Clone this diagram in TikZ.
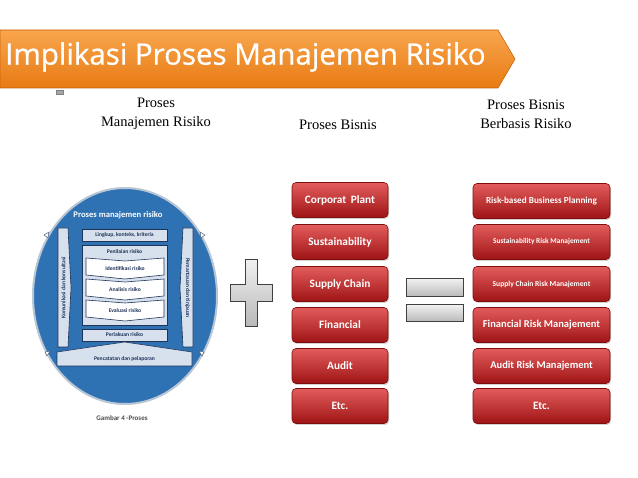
\documentclass[tikz,border=0pt]{standalone}
\usepackage{fontspec}
\setmainfont{Liberation Serif}
\newfontfamily\titlefont[FakeBold=0.8]{Open Sans}
\newfontfamily\boxfont{Carlito}
\usetikzlibrary{shadows}
\definecolor{orangeA}{HTML}{F8A64E}
\definecolor{orangeB}{HTML}{E87A12}
\definecolor{orangeC}{HTML}{C86408}
\definecolor{redTop}{HTML}{E25C5C}
\definecolor{redMid}{HTML}{CC2B2B}
\definecolor{redBot}{HTML}{9E1414}
\definecolor{redLine}{HTML}{7E0E0E}
\definecolor{ellBlue}{HTML}{2F72B4}
\definecolor{ellLine}{HTML}{B9C6D3}
\definecolor{paleBox}{HTML}{D7E1EE}
\definecolor{navy}{HTML}{1F3458}
\tikzset{
  redbox/.style={rounded corners=4pt, draw=redLine, line width=0.6pt,
    top color=redTop, middle color=redMid, bottom color=redBot,
    minimum height=35pt, text=white, font=\boxfont\bfseries,
    drop shadow={opacity=0.35, shadow xshift=1pt, shadow yshift=-1.5pt}},
  midbox/.style={redbox, minimum width=96pt},
  rightbox/.style={redbox, minimum width=137pt},
  palebox/.style={fill=paleBox, draw=navy, line width=0.6pt},
  whitebox/.style={fill=white, draw=navy, line width=0.6pt},
  innerlbl/.style={text=navy, font=\boxfont\bfseries\fontsize{5.6}{6}\selectfont, inner sep=0pt},
  greyshape/.style={draw=black!75, line width=1pt, top color=black!6, bottom color=black!28},
  heading/.style={font=\fontsize{14.5}{16}\selectfont, align=center, inner sep=0pt},
  tri/.style={draw=navy!80, fill=white, line width=0.5pt}
}
\begin{document}
\begin{tikzpicture}[x=1pt,y=-1pt]
\useasboundingbox[fill=white] (0,0) rectangle (638,478);
% title banner
\path[draw=orangeC, line width=0.6pt, top color=orangeA, bottom color=orangeB]
  (0,30) -- (498,30) -- (515,59) -- (498,88) -- (0,88) -- cycle;
\node[anchor=west, text=white, font=\titlefont\fontsize{29.5}{32}\selectfont, inner sep=0pt] (title) at (5,57) {Implikasi Proses Manajemen Risiko};
\path[fill=black!35, draw=black!50, line width=0.3pt] (56,90) rectangle (63,94);
% headings
\node[heading] (h1) at (156,114) {Proses\\[3pt]Manajemen Risiko};
\node[heading] (h2) at (338,125) {Proses Bisnis};
\node[heading] (h3) at (526,114) {Proses Bisnis\\[3pt]Berbasis Risiko};
% ellipse
\draw[fill=ellBlue, draw=ellLine, line width=2pt] (125,296) ellipse [x radius=92, y radius=108];
\node[text=white, font=\boxfont\bfseries\fontsize{8.6}{9}\selectfont, inner sep=0pt] (pmr) at (118,215) {Proses manajemen risiko};
% side bars
\path[palebox] (58,228) -- (68,228) -- (71,288) -- (68,347) -- (58,347) -- cycle;
\node[innerlbl, rotate=90] (kom) at (63.5,288) {Komunikasi dan konsultasi};
\path[palebox] (183,228) -- (193,228) -- (193,347) -- (183,347) -- (180,288) -- cycle;
\node[innerlbl, rotate=-90] (pem) at (187.5,288) {Pemantauan dan tinjauan};
% center boxes
\path[palebox] (82,229) rectangle (167,241);
\node[innerlbl] (lin) at (124.5,235) {Lingkup, konteks, kriteria};
\path[palebox] (82,245) rectangle (167,325);
\node[innerlbl] (pen) at (124.5,251.5) {Penilaian risiko};
\path[whitebox] (86,258) -- (125,261) -- (164,258) -- (164,275) -- (125,279) -- (86,275) -- cycle;
\node[innerlbl] (idf) at (125,268.5) {Identifikasi risiko};
\path[whitebox] (86,279) -- (125,282) -- (164,279) -- (164,296) -- (125,300) -- (86,296) -- cycle;
\node[innerlbl] (ana) at (125,289.5) {Analisis risiko};
\path[whitebox] (86,300) -- (125,303) -- (164,300) -- (164,317) -- (125,321) -- (86,317) -- cycle;
\node[innerlbl] (eva) at (125,310.5) {Evaluasi risiko};
\path[palebox] (82,329) rectangle (167,341);
\node[innerlbl] (per) at (124.5,335) {Perlakuan risiko};
\path[palebox] (57,352) -- (124.5,342) -- (192,352) -- (192,366) -- (57,366) -- cycle;
\node[innerlbl] (pct) at (124.5,359) {Pencatatan dan pelaporan};
% small corner triangles
\path[tri] (44,235) -- (49,232) -- (48,238) -- cycle;
\path[tri] (205,235) -- (200,232) -- (201,238) -- cycle;
\path[tri] (45,352) -- (50,351) -- (47,356) -- cycle;
\path[tri] (204,352) -- (199,351) -- (202,356) -- cycle;
\node[font=\boxfont\bfseries\fontsize{7}{8}\selectfont, text=black!70, inner sep=0pt] (gmb) at (122,418) {Gambar 4 -Proses};
% plus sign
\path[greyshape] (245,260) -- (257,260) -- (257,285) -- (272,285) -- (272,302) -- (257,302)
  -- (257,327) -- (245,327) -- (245,302) -- (230,302) -- (230,285) -- (245,285) -- cycle;
% equal sign
\path[greyshape] (406,279) rectangle (463,297);
\path[greyshape] (406,305) rectangle (463,322);
% middle column
\node[midbox, font=\boxfont\bfseries\fontsize{11.3}{13}\selectfont] (m1) at (340,200) {Corporat\ \,Plant};
\node[midbox, font=\boxfont\bfseries\fontsize{11.3}{13}\selectfont] (m2) at (340,242) {Sustainability};
\node[midbox, font=\boxfont\bfseries\fontsize{11.3}{13}\selectfont] (m3) at (340,284) {Supply Chain};
\node[midbox, font=\boxfont\bfseries\fontsize{11.3}{13}\selectfont] (m4) at (340,325) {Financial};
\node[midbox, font=\boxfont\bfseries\fontsize{11.3}{13}\selectfont] (m5) at (340,366) {Audit};
\node[midbox, font=\boxfont\bfseries\fontsize{11.3}{13}\selectfont] (m6) at (340,406) {Etc.};
% right column
\node[rightbox, font=\boxfont\bfseries\fontsize{9.2}{10}\selectfont] (r1) at (541.5,201) {Risk-based Business Planning};
\node[rightbox, font=\boxfont\bfseries\fontsize{7.4}{9}\selectfont] (r2) at (541.5,242) {Sustainability Risk Manajement};
\node[rightbox, font=\boxfont\bfseries\fontsize{7.6}{9}\selectfont] (r3) at (541.5,284) {Supply Chain Risk Manajement};
\node[rightbox, font=\boxfont\bfseries\fontsize{10.5}{12}\selectfont] (r4) at (541.5,325) {Financial Risk Manajement};
\node[rightbox, font=\boxfont\bfseries\fontsize{10.5}{12}\selectfont] (r5) at (541.5,366) {Audit Risk Manajement};
\node[rightbox, font=\boxfont\bfseries\fontsize{11.3}{13}\selectfont] (r6) at (541.5,406) {Etc.};
\end{tikzpicture}
\end{document}
